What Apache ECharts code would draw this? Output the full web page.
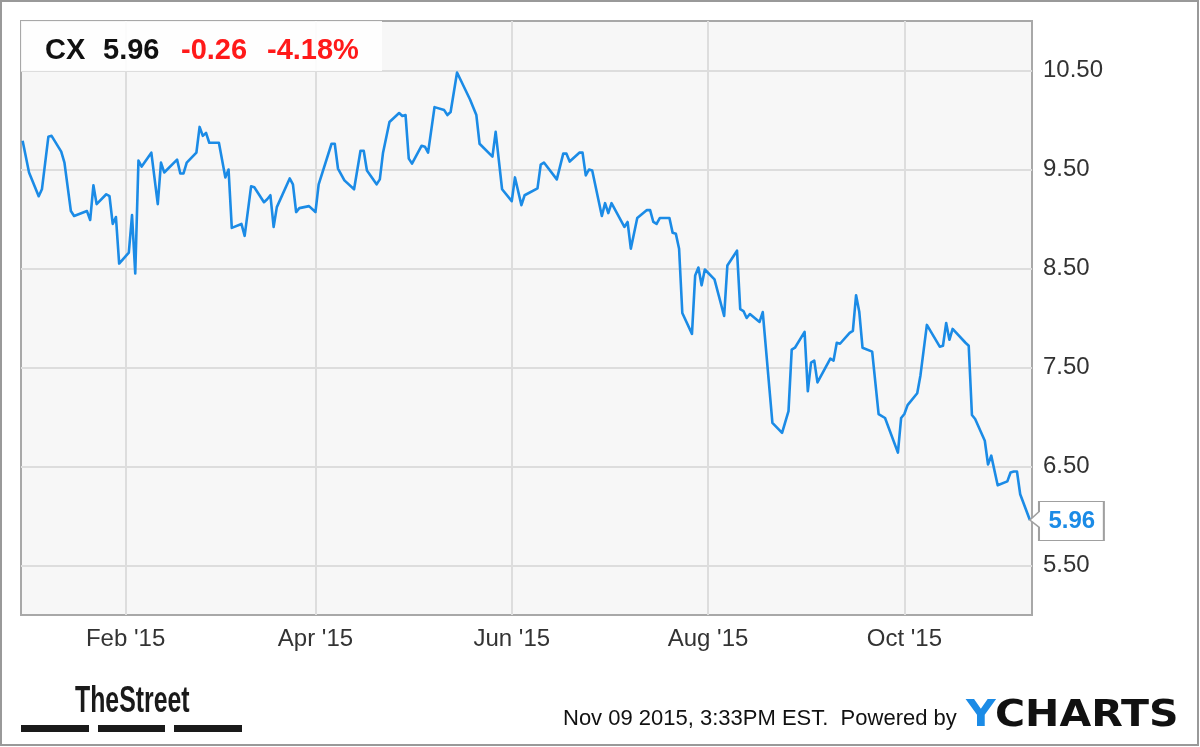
<!DOCTYPE html>
<html>
<head>
<meta charset="utf-8">
<script src="https://cdn.jsdelivr.net/npm/echarts@6/dist/echarts.min.js"></script>
<style>
  html, body { margin: 0; padding: 0; background: #ffffff; }
  #chart { width: 1200px; height: 747px; }
</style>
</head>
<body>
<div id="chart"></div>
<script>
// ---- Data ----
const ticker = 'CX';
const dates = [
  '2014-12-31','2015-01-02','2015-01-05','2015-01-06','2015-01-08','2015-01-09','2015-01-12','2015-01-13','2015-01-15','2015-01-16',
  '2015-01-20','2015-01-21','2015-01-22','2015-01-23','2015-01-26','2015-01-27','2015-01-28','2015-01-29','2015-01-30',
  '2015-02-02','2015-02-03','2015-02-04','2015-02-05','2015-02-06','2015-02-09','2015-02-11','2015-02-12','2015-02-13',
  '2015-02-17','2015-02-18','2015-02-19','2015-02-20','2015-02-23','2015-02-24','2015-02-25','2015-02-26','2015-02-27',
  '2015-03-02','2015-03-04','2015-03-05','2015-03-06','2015-03-09','2015-03-10','2015-03-12','2015-03-13',
  '2015-03-16','2015-03-17','2015-03-18','2015-03-19','2015-03-20','2015-03-24','2015-03-25','2015-03-26','2015-03-27',
  '2015-03-30','2015-04-01','2015-04-02','2015-04-06','2015-04-07','2015-04-08','2015-04-10','2015-04-13','2015-04-15',
  '2015-04-16','2015-04-17','2015-04-20','2015-04-21','2015-04-22','2015-04-24','2015-04-27','2015-04-28','2015-04-29',
  '2015-04-30','2015-05-01','2015-05-04','2015-05-05','2015-05-06','2015-05-08','2015-05-11','2015-05-12','2015-05-13',
  '2015-05-15','2015-05-19','2015-05-21','2015-05-22','2015-05-26','2015-05-27','2015-05-29','2015-06-01','2015-06-02',
  '2015-06-04','2015-06-05','2015-06-09','2015-06-10','2015-06-11','2015-06-15','2015-06-17','2015-06-18','2015-06-19',
  '2015-06-22','2015-06-23','2015-06-24','2015-06-25','2015-06-26','2015-06-29','2015-06-30','2015-07-01','2015-07-02',
  '2015-07-06','2015-07-07','2015-07-08','2015-07-10','2015-07-13','2015-07-14','2015-07-15','2015-07-16','2015-07-17',
  '2015-07-20','2015-07-21','2015-07-22','2015-07-23','2015-07-24','2015-07-27','2015-07-28','2015-07-29','2015-07-30',
  '2015-07-31','2015-08-03','2015-08-06','2015-08-07','2015-08-10','2015-08-11','2015-08-12','2015-08-13','2015-08-14',
  '2015-08-17','2015-08-18','2015-08-21','2015-08-24','2015-08-26','2015-08-27','2015-08-28','2015-08-31','2015-09-01',
  '2015-09-02','2015-09-03','2015-09-04','2015-09-08','2015-09-09','2015-09-10','2015-09-11','2015-09-14','2015-09-15',
  '2015-09-16','2015-09-17','2015-09-18','2015-09-21','2015-09-23','2015-09-25','2015-09-29','2015-09-30','2015-10-01',
  '2015-10-02','2015-10-05','2015-10-06','2015-10-08','2015-10-12','2015-10-13','2015-10-14','2015-10-15','2015-10-16',
  '2015-10-20','2015-10-21','2015-10-22','2015-10-23','2015-10-26','2015-10-27','2015-10-28','2015-10-30','2015-11-02',
  '2015-11-03','2015-11-04','2015-11-05','2015-11-06','2015-11-09'
];
const prices = [
  9.79,9.47,9.23,9.30,9.83,9.84,9.68,9.57,9.08,9.03,
  9.08,8.99,9.34,9.15,9.25,9.23,8.95,9.02,8.55,
  8.66,9.04,8.45,9.59,9.53,9.67,9.15,9.57,9.47,
  9.60,9.46,9.46,9.57,9.67,9.93,9.84,9.87,9.77,
  9.77,9.42,9.50,8.91,8.95,8.83,9.33,9.32,
  9.17,9.20,9.24,8.92,9.12,9.41,9.35,9.07,9.11,
  9.13,9.07,9.35,9.76,9.76,9.51,9.39,9.30,9.69,
  9.69,9.49,9.35,9.40,9.67,9.98,10.07,10.04,10.05,
  9.61,9.56,9.74,9.73,9.67,10.13,10.10,10.05,10.08,
  10.48,10.21,10.05,9.76,9.63,9.88,9.30,9.18,9.42,
  9.14,9.24,9.31,9.55,9.57,9.40,9.66,9.66,9.58,
  9.67,9.67,9.44,9.50,9.49,9.03,9.16,9.06,9.16,
  8.92,8.97,8.70,9.01,9.09,9.09,8.97,8.95,9.01,
  9.01,8.86,8.85,8.70,8.05,7.84,8.43,8.51,8.33,
  8.49,8.39,8.02,8.53,8.68,8.09,8.07,8.00,8.04,
  7.96,8.06,6.94,6.84,7.06,7.68,7.70,7.86,7.26,
  7.55,7.57,7.35,7.59,7.57,7.75,7.74,7.85,7.87,
  8.23,8.06,7.70,7.66,7.03,6.99,6.64,6.99,7.03,
  7.12,7.24,7.42,7.93,7.71,7.72,7.95,7.78,7.89,
  7.75,7.72,7.02,6.98,6.76,6.52,6.61,6.31,6.35,
  6.44,6.45,6.45,6.22,5.96
];
const xTickDates = ['2015-02-01','2015-04-01','2015-06-01','2015-08-01','2015-10-01'];
const yTicks = [5.5, 6.5, 7.5, 8.5, 9.5, 10.5];
const xRange = ['2014-12-30 12:00', '2015-11-09 16:00'];
const yRange = [5, 11];
const monthNames = ['Jan','Feb','Mar','Apr','May','Jun','Jul','Aug','Sep','Oct','Nov','Dec'];
const footerText = 'Nov 09 2015, 3:33PM EST.  Powered by';

// ---- helpers ----
function toTime(s) {
  const m = s.match(/^(\d{4})-(\d{2})-(\d{2})(?:[ T](\d{2}):(\d{2}))?$/);
  return new Date(+m[1], +m[2] - 1, +m[3], m[4] ? +m[4] : 0, m[5] ? +m[5] : 0).getTime();
}
const seriesData = dates.map((d, i) => [toTime(d), prices[i]]);
const xTicks = xTickDates.map(toTime);
const last = prices[prices.length - 1];
const prev = prices[prices.length - 2];
const chg = last - prev;
const pct = chg / prev * 100;
const fmtSigned = v => (v < 0 ? '-' : '+') + Math.abs(v).toFixed(2);

const BLUE = '#1b8be6';
const FONT = '"Liberation Sans", Arial, sans-serif';

const chart = echarts.init(document.getElementById('chart'), null, { renderer: 'canvas' });

const option = {
  animation: false,
  backgroundColor: '#ffffff',
  grid: {
    left: 21, right: 168, top: 21, bottom: 132,
    show: true,
    backgroundColor: '#f7f7f7',
    borderColor: '#a8a8a8',
    borderWidth: 2
  },
  xAxis: {
    type: 'value',
    min: toTime(xRange[0]),
    max: toTime(xRange[1]),
    axisLine: { show: false },
    axisTick: { show: false, customValues: xTicks },
    splitLine: { show: true, lineStyle: { color: '#dddddd', width: 2 } },
    axisLabel: {
      customValues: xTicks,
      margin: 12,
      color: '#333333',
      fontFamily: FONT,
      fontSize: 24,
      hideOverlap: false,
      formatter: function (v) {
        const d = new Date(v);
        return monthNames[d.getMonth()] + " '" + String(d.getFullYear()).slice(2);
      }
    }
  },
  yAxis: {
    type: 'value',
    position: 'right',
    min: yRange[0],
    max: yRange[1],
    axisLine: { show: false },
    axisTick: { show: false, customValues: yTicks },
    splitLine: { show: true, lineStyle: { color: '#dddddd', width: 2 } },
    axisLabel: {
      customValues: yTicks,
      margin: 11,
      color: '#333333',
      fontFamily: FONT,
      fontSize: 24,
      formatter: v => v.toFixed(2)
    }
  },
  series: [{
    type: 'line',
    data: seriesData,
    showSymbol: false,
    symbol: 'none',
    clip: false,
    lineStyle: { color: BLUE, width: 2.6, join: 'round' },
    markPoint: {
      symbol: 'path://M9,0 L73,0 L73,38 L9,38 L9,25 L0,18 L9,10 Z',
      symbolSize: [74, 39],
      symbolKeepAspect: false,
      symbolOffset: [37, 1],
      silent: true,
      itemStyle: { color: '#ffffff', borderColor: '#a0a0a0', borderWidth: 1.5 },
      label: {
        show: true,
        position: 'inside',
        offset: [5, 0],
        color: BLUE,
        fontFamily: FONT,
        fontWeight: 'bold',
        fontSize: 24,
        formatter: p => Number(p.value).toFixed(2)
      },
      data: [{ coord: seriesData[seriesData.length - 1], value: last }]
    }
  }],
  graphic: [
    { type: 'rect', z: 100, shape: { x: 21, y: 21, width: 361, height: 50 },
      style: { fill: 'rgba(255,255,255,0.88)' } },
    { type: 'text', z: 101, x: 45, y: 65, style: { text: ticker, fill: '#111111',
      font: 'bold 29px ' + FONT, textAlign: 'left', textVerticalAlign: 'bottom' } },
    { type: 'text', z: 101, x: 103, y: 65, style: { text: last.toFixed(2), fill: '#111111',
      font: 'bold 29px ' + FONT, textAlign: 'left', textVerticalAlign: 'bottom' } },
    { type: 'text', z: 101, x: 181, y: 65, style: { text: fmtSigned(chg), fill: '#ff1a1a',
      font: 'bold 29px ' + FONT, textAlign: 'left', textVerticalAlign: 'bottom' } },
    { type: 'text', z: 101, x: 267, y: 65, style: { text: fmtSigned(pct).replace('+', '') + '%', fill: '#ff1a1a',
      font: 'bold 29px ' + FONT, textAlign: 'left', textVerticalAlign: 'bottom' } },
    { type: 'text', z: 101, x: 75, y: 720, scaleX: 0.69, style: { text: 'TheStreet', fill: '#1a1a1a',
      font: 'bold 36px ' + FONT, textAlign: 'left', textVerticalAlign: 'bottom' } },
    { type: 'rect', z: 101, shape: { x: 21, y: 725, width: 68, height: 7 }, style: { fill: '#1a1a1a' } },
    { type: 'rect', z: 101, shape: { x: 98, y: 725, width: 67, height: 7 }, style: { fill: '#1a1a1a' } },
    { type: 'rect', z: 101, shape: { x: 174, y: 725, width: 68, height: 7 }, style: { fill: '#1a1a1a' } },
    { type: 'text', z: 101, x: 563, y: 730, style: { text: footerText, fill: '#111111',
      font: '22px ' + FONT, textAlign: 'left', textVerticalAlign: 'bottom' } },
    { type: 'text', z: 101, x: 966, y: 735, scaleX: 1.08, style: { text: 'Y', fill: BLUE,
      font: 'bold 38px "DejaVu Sans", sans-serif', textAlign: 'left', textVerticalAlign: 'bottom' } },
    { type: 'text', z: 101, x: 995, y: 735, scaleX: 1.08, style: { text: 'CHARTS', fill: '#111111',
      font: 'bold 38px "DejaVu Sans", sans-serif', textAlign: 'left', textVerticalAlign: 'bottom' } },
    { type: 'rect', z: 120, shape: { x: 1, y: 1, width: 1197, height: 744 },
      style: { fill: 'none', stroke: '#999999', lineWidth: 2 } }
  ]
};
chart.setOption(option);
</script>
</body>
</html>
